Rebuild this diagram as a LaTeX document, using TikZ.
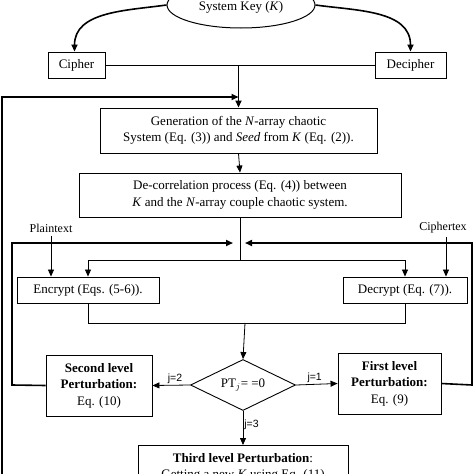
\documentclass[tikz,border=0pt]{standalone}
\usepackage{fontspec}
\setmainfont{Liberation Serif}
\newfontfamily\labfont{Liberation Sans}
\usetikzlibrary{shapes.geometric,arrows.meta}
\begin{document}
\begin{tikzpicture}[x=1pt,y=-1pt,
  box/.style={draw,line width=0.9pt,inner sep=0pt,align=center,font=\fontsize{13}{16.5}\selectfont},
  thin/.style={line width=0.8pt},
  heavy/.style={line width=1.6pt},
  tip/.style={-{Triangle[length=7pt,width=6pt]}},
  lab/.style={font=\fontsize{12}{14}\selectfont},
  jlab/.style={font=\labfont\fontsize{10.5}{12}\selectfont,inner sep=1pt}]
\useasboundingbox (0,0) rectangle (474,474);
\fill[white] (0,0) rectangle (474,474);
% nodes
\node[ellipse,draw,line width=1pt,minimum width=148pt,minimum height=46pt,inner sep=0pt] (key) at (241,5) {};
\node[font=\fontsize{13}{15}\selectfont] (keytxt) at (241,7) {System Key (\textit{K})};
\node[box,minimum width=57pt,minimum height=26pt] (cipher) at (76.5,65) {Cipher};
\node[box,minimum width=71pt,minimum height=26pt] (decipher) at (410.5,65) {Decipher};
\node[box,minimum width=277pt,minimum height=45pt] (gen) at (238.5,130.5) {Generation of the \textit{N}-array chaotic\\System (Eq. (3)) and \textit{Seed} from \textit{K} (Eq. (2)).};
\node[box,minimum width=322pt,minimum height=44pt] (decor) at (240,195) {De-correlation process (Eq. (4)) between\\\textit{K} and the \textit{N}-array couple chaotic system.};
\node[box,minimum width=142pt,minimum height=26pt] (enc) at (88,290) {Encrypt (Eqs. (5-6)).};
\node[box,minimum width=124pt,minimum height=26pt] (dec) at (405,290) {Decrypt (Eq. (7)).};
\node[lab] (plain) at (51,228) {Plaintext};
\node[lab] (ctext) at (443,228) {Ciphertex};
\node[diamond,draw,line width=0.9pt,minimum width=105pt,minimum height=51pt,inner sep=0pt,aspect=2,font=\fontsize{13}{15}\selectfont] (dia) at (243,385) {PT$_j$= =0};
\node[box,minimum width=106pt,minimum height=61pt] (second) at (99,385.5) {\textbf{Second level}\\\textbf{Perturbation:}\\Eq. (10)};
\node[box,minimum width=103pt,minimum height=61pt] (first) at (389.5,383.5) {\textbf{First level}\\\textbf{Perturbation:}\\Eq. (9)};
\node[box,minimum width=210pt,minimum height=44pt,anchor=north] (third) at (243,445) {\textbf{Third level Perturbation}:\\Getting a new \textit{K} using Eq. (11)};
% coordinates
\coordinate (m1) at (gen.north |- cipher.east);
\coordinate (m2) at (gen.north |- 0,97);
\coordinate (lb) at (2,474);
\coordinate (lt) at (2,97);
\coordinate (j1) at (decor.south |- 0,260);
\coordinate (ea) at (enc.north |- 0,260);
\coordinate (da) at (dec.north |- 0,260);
\coordinate (eb) at (enc.south |- 0,323);
\coordinate (db) at (dec.south |- 0,323);
\coordinate (jb) at (245,323);
\coordinate (ll) at (12,385);
\coordinate (lu) at (12,243);
\coordinate (la) at (233,243);
\coordinate (rr) at (472,385);
\coordinate (ru) at (472,243);
\coordinate (ra) at (245,243);
% connectors
\draw[heavy,tip] (key.west) to[out=188,in=90] ([xshift=-2pt]cipher.north);
\draw[heavy,tip] (key.east) to[out=-8,in=90] (decipher.north);
\draw[thin] (cipher.east) -- (decipher.west);
\draw[heavy,tip] (m1) -- (gen.north);
\draw[heavy,tip] (lb) -- (lt) -- (m2);
\draw[thin,tip] (gen.south) -- (decor.north);
\draw[thin] (decor.south) -- (j1);
\draw[thin] (ea) -- (da);
\draw[thin,tip] (ea) -- (enc.north);
\draw[thin,tip] (da) -- (dec.north);
\draw[thin,tip] (plain.south) -- (plain.south |- enc.north);
\draw[thin,tip] ([xshift=3pt]ctext.south) -- ([xshift=3pt]ctext.south |- dec.north);
\draw[thin] (enc.south) -- (eb) -- (db) -- (dec.south);
\draw[thin,tip] (jb) -- (dia.north);
\draw[thin,tip] (dia.west) -- node[jlab,above,pos=0.4] {j=2} (second.east);
\draw[thin,tip] (dia.east) -- node[jlab,above,pos=0.45] {j=1} (first.west);
\draw[thin,tip] (dia.south) -- node[jlab,right,pos=0.4] {j=3} (third.north);
\draw[heavy,tip] (second.west) -- (ll) -- (lu) -- (la);
\draw[heavy,tip] (first.east) -- (rr) -- (ru) -- (ra);
\end{tikzpicture}
\end{document}
